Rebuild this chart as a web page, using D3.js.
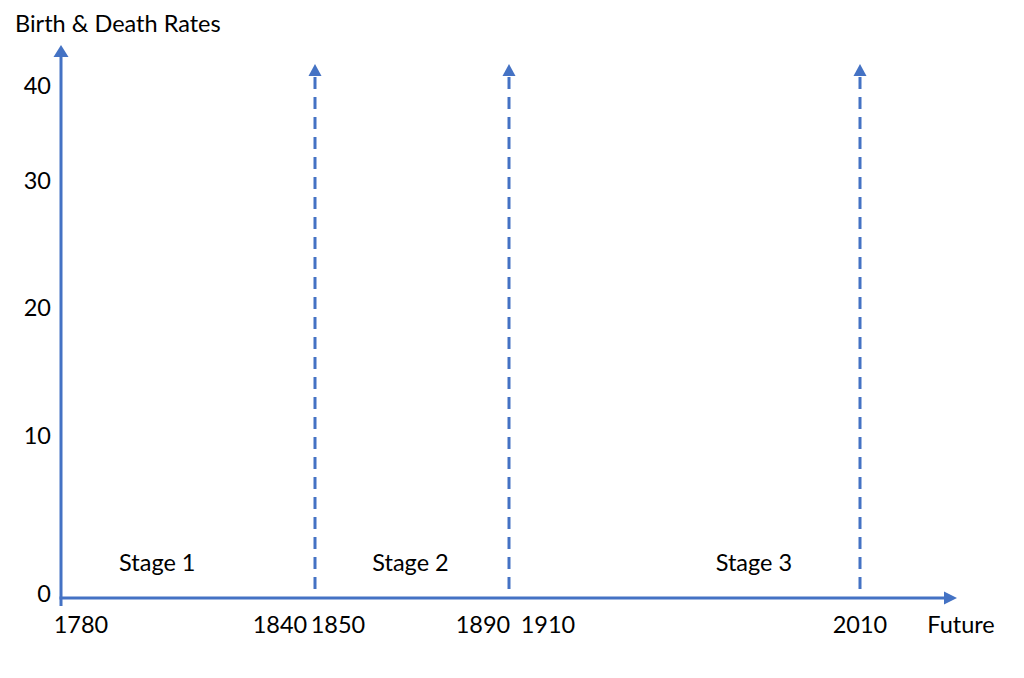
<!DOCTYPE html>
<html>
<head>
<meta charset="utf-8">
<script src="https://cdn.jsdelivr.net/npm/d3@7"></script>
<style>
  html, body { margin: 0; padding: 0; background: #fff; }
  svg text { font-family: Lato, "Open Sans", sans-serif; fill: #000; }
</style>
</head>
<body>
<svg id="chart" width="1024" height="678"></svg>
<script>
// ---- data ----
const yTicks = [0, 10, 20, 30, 40];
const xTickLabels = ["1780", "1840", "1850", "1890", "1910", "2010", "Future"];
const xTickYears  = [1780, 1840, 1850, 1890, 1910, 2010, 2040];
const stageBoundaryYears = [1845, 1900, 2010];
const stageNames = ["Stage 1", "Stage 2", "Stage 3"];
const stageLabelYears = [1803, 1870, 1976];
const yTitle = "Birth & Death Rates";

// ---- layout ----
const color = "#4472C4";
const fontSize = 23.5;
const axisX = 61, axisY = 598;
const yAxisTop = 45, xAxisRight = 957;

const svg = d3.select("#chart");

// piecewise scales (the picture's axes are not linear)
const y = d3.scaleLinear().domain(yTicks).range([594, 435.5, 308, 181, 86]);
const x = d3.scaleLinear()
  .domain([1780, 1840, 1845, 1850, 1890, 1900, 1910, 2010, 2040])
  .range([81, 280, 315, 338, 483, 509, 548, 860, 961]);

// title
svg.append("text").attr("x", 15).attr("y", 32)
  .attr("font-size", fontSize).text(yTitle);

// y axis with arrow
svg.append("line").attr("x1", axisX).attr("x2", axisX)
  .attr("y1", 606).attr("y2", yAxisTop + 11)
  .attr("stroke", color).attr("stroke-width", 3);
svg.append("path")
  .attr("d", d3.line()([[axisX - 7.5, yAxisTop + 12], [axisX, yAxisTop], [axisX + 7.5, yAxisTop + 12]]) + "Z")
  .attr("fill", color);

// x axis with arrow
svg.append("line").attr("x1", axisX - 1.5).attr("x2", xAxisRight - 12)
  .attr("y1", axisY).attr("y2", axisY)
  .attr("stroke", color).attr("stroke-width", 3);
svg.append("path")
  .attr("d", d3.line()([[xAxisRight - 13, axisY - 6.5], [xAxisRight, axisY], [xAxisRight - 13, axisY + 6.5]]) + "Z")
  .attr("fill", color);

// y tick labels
svg.selectAll("text.ytick").data(yTicks).join("text")
  .attr("class", "ytick")
  .attr("x", 51).attr("y", d => y(d)).attr("dy", "0.36em")
  .attr("text-anchor", "end").attr("font-size", fontSize)
  .text(d => d);

// x tick labels
svg.selectAll("text.xtick").data(xTickLabels).join("text")
  .attr("class", "xtick")
  .attr("x", (d, i) => x(xTickYears[i])).attr("y", 633)
  .attr("text-anchor", "middle").attr("font-size", fontSize)
  .text(d => d);

// dashed stage boundary arrows
const arrowTip = 64;
const g = svg.selectAll("g.bound").data(stageBoundaryYears).join("g").attr("class", "bound");
g.append("line")
  .attr("x1", d => x(d)).attr("x2", d => x(d))
  .attr("y1", arrowTip + 13).attr("y2", axisY - 3)
  .attr("stroke", color).attr("stroke-width", 3)
  .attr("stroke-dasharray", "12 8");
g.append("path")
  .attr("d", d => d3.line()([[x(d) - 6.5, arrowTip + 12], [x(d), arrowTip], [x(d) + 6.5, arrowTip + 12]]) + "Z")
  .attr("fill", color);

// stage labels
svg.selectAll("text.stage").data(stageNames).join("text")
  .attr("class", "stage")
  .attr("x", (d, i) => x(stageLabelYears[i])).attr("y", 571)
  .attr("text-anchor", "middle").attr("font-size", fontSize)
  .text(d => d);
</script>
</body>
</html>
